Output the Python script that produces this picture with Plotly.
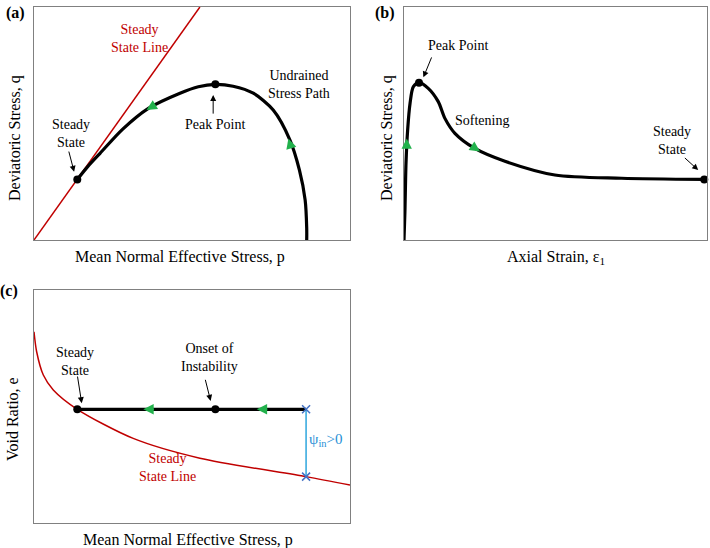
import plotly.graph_objects as go

# ---------------- data ----------------
# (a) stress path in p-q space
ssl_a_p = [0, 52.5]
ssl_a_q = [0, 100]
path_a_p = [13.7, 17, 20.9, 28, 36.2, 46.2, 52, 57.4, 63, 69.4, 75.7, 81, 84, 85.8, 86.3, 86.3]
path_a_q = [26, 31.5, 37.2, 47.5, 56.5, 63, 65.8, 66.8, 66, 63, 55.8, 42.9, 30, 17.2, 5, 0]
pts_a_p = [13.7, 57.4]
pts_a_q = [26, 66.8]

# (b) stress-strain curve
strain_b = [0, 0.3, 0.66, 1.2, 2.0, 3.1, 4.95, 8, 11.3, 13.5, 16.8, 23.4, 33.3, 49.8, 71.8, 99.1]
q_b = [0, 12, 32.9, 47.2, 58.7, 65.8, 67.5, 65.1, 59.4, 52.2, 45.8, 39.3, 33.8, 27.9, 26.5, 26.0]
pts_b_x = [4.95, 99.1]
pts_b_q = [67.5, 26.0]

# (c) void ratio vs p
ssl_c_p = [0, 0.84, 2.95, 6.1, 13.7, 31.4, 52.5, 86.1, 100]
ssl_c_e = [82.1, 73.5, 63.5, 57.1, 48.8, 36.3, 27.8, 19.9, 16.3]
path_c_p = [13.7, 57.4, 86.1]
path_c_e = [48.8, 48.8, 48.8]
pts_c_p = [13.7, 57.4]
pts_c_e = [48.8, 48.8]
psi_p = [86.1, 86.1]
psi_e = [48.8, 19.9]

RED = "#c00000"
BLACK = "#000000"
GREEN = "#22b14c"
BLUE_L = "#2ea6dd"
BLUE_M = "#4472c4"
FONT = "Liberation Serif"

W, H = 710, 548
def px(v):
    return v / W
def py(v):
    return 1 - v / H

fig = go.Figure()

# (a)
fig.add_trace(go.Scatter(x=ssl_a_p, y=ssl_a_q, mode="lines", line=dict(color=RED, width=1.5),
                         xaxis="x", yaxis="y", showlegend=False, hoverinfo="skip"))
fig.add_trace(go.Scatter(x=path_a_p, y=path_a_q, mode="lines", line=dict(color=BLACK, width=3.2, shape="spline", smoothing=0.8),
                         xaxis="x", yaxis="y", showlegend=False, hoverinfo="skip"))
fig.add_trace(go.Scatter(x=pts_a_p, y=pts_a_q, mode="markers", marker=dict(color=BLACK, size=8),
                         xaxis="x", yaxis="y", showlegend=False, hoverinfo="skip"))
# (b)
fig.add_trace(go.Scatter(x=strain_b, y=q_b, mode="lines", line=dict(color=BLACK, width=3.2, shape="spline", smoothing=0.8),
                         xaxis="x2", yaxis="y2", showlegend=False, hoverinfo="skip"))
fig.add_trace(go.Scatter(x=pts_b_x, y=pts_b_q, mode="markers", marker=dict(color=BLACK, size=8),
                         xaxis="x2", yaxis="y2", showlegend=False, hoverinfo="skip", cliponaxis=False))
# (c)
fig.add_trace(go.Scatter(x=ssl_c_p, y=ssl_c_e, mode="lines", line=dict(color=RED, width=1.5, shape="spline", smoothing=0.8),
                         xaxis="x3", yaxis="y3", showlegend=False, hoverinfo="skip"))
fig.add_trace(go.Scatter(x=path_c_p, y=path_c_e, mode="lines", line=dict(color=BLACK, width=3.2),
                         xaxis="x3", yaxis="y3", showlegend=False, hoverinfo="skip"))
fig.add_trace(go.Scatter(x=psi_p, y=psi_e, mode="lines+markers", line=dict(color=BLUE_L, width=1.5),
                         marker=dict(symbol="x-thin", size=8, line=dict(color=BLUE_M, width=1.5), color=BLUE_M),
                         xaxis="x3", yaxis="y3", showlegend=False, hoverinfo="skip"))
fig.add_trace(go.Scatter(x=pts_c_p, y=pts_c_e, mode="markers", marker=dict(color=BLACK, size=8),
                         xaxis="x3", yaxis="y3", showlegend=False, hoverinfo="skip"))

ax_common = dict(range=[0, 100], showgrid=False, zeroline=False, showticklabels=False, ticks="",
                 showline=True, mirror=True, linecolor="#808080", linewidth=1, fixedrange=True)

fig.update_layout(
    width=W, height=H,
    margin=dict(l=0, r=0, t=0, b=0),
    paper_bgcolor="white", plot_bgcolor="white",
    font=dict(family=FONT, size=14, color="black"),
    xaxis=dict(domain=[px(34), px(350)], anchor="y", **ax_common),
    yaxis=dict(domain=[py(240), py(7)], anchor="x", **ax_common),
    xaxis2=dict(domain=[px(404), px(707)], anchor="y2", **ax_common),
    yaxis2=dict(domain=[py(240), py(7)], anchor="x2", **ax_common),
    xaxis3=dict(domain=[px(34), px(350)], anchor="y3", **ax_common),
    yaxis3=dict(domain=[py(523), py(290)], anchor="x3", **ax_common),
)

ann = []
def text(x, y, s, xr, yr, color="black", size=14):
    ann.append(dict(x=x, y=y, xref=xr, yref=yr, text=s, showarrow=False,
                    font=dict(family=FONT, size=size, color=color), xanchor="center", yanchor="middle"))

def arrow(x, y, ax, ay, xr, yr, color="black", width=1, size=1.2):
    ann.append(dict(x=x, y=y, ax=ax, ay=ay, xref=xr, yref=yr, axref=xr, ayref=yr, text="",
                    showarrow=True, arrowhead=2, arrowsize=size, arrowwidth=width, arrowcolor=color, standoff=0))

def garrow(x, y, dx, dy, xr, yr):
    ann.append(dict(x=x, y=y, ax=dx, ay=dy, xref=xr, yref=yr, text="",
                    showarrow=True, arrowhead=2, arrowsize=1.15, arrowwidth=1.8, arrowcolor=GREEN, standoff=0))

# panel labels
for lab, x, y in [("(a)", 15, 13), ("(b)", 385, 13), ("(c)", 9, 291)]:
    ann.append(dict(x=px(x), y=py(y), xref="paper", yref="paper", text="<b>" + lab + "</b>", showarrow=False,
                    font=dict(family=FONT, size=16, color="black"), xanchor="center", yanchor="middle"))

# axis titles
def atitle(x, y, s, angle=0):
    ann.append(dict(x=px(x), y=py(y), xref="paper", yref="paper", text=s, showarrow=False, textangle=angle,
                    font=dict(family=FONT, size=16, color="black"), xanchor="center", yanchor="middle"))

atitle(180, 257, "Mean Normal Effective Stress, p")
atitle(15, 138, "Deviatoric Stress, q", -90)
atitle(556, 257, "Axial Strain, ε<sub>1</sub>")
atitle(387, 138, "Deviatoric Stress, q", -90)
atitle(188, 540, "Mean Normal Effective Stress, p")
atitle(12, 419, "Void Ratio, e", -90)

# (a) labels
text(33.5, 86.3, "Steady<br>State Line", "x", "y", color=RED)
text(83.9, 66.7, "Undrained<br>Stress Path", "x", "y")
text(11.6, 45.9, "Steady<br>State", "x", "y")
arrow(12.7, 29.3, 10.9, 38.6, "x", "y")
text(57.3, 49.4, "Peak Point", "x", "y")
arrow(56.7, 62.2, 56.7, 53.6, "x", "y")
garrow(35.6, 55.8, 10, -6, "x", "y")
garrow(80.5, 43.6, 3, 10, "x", "y")

# (b) labels
text(17.9, 83.3, "Peak Point", "x2", "y2")
arrow(6.4, 69.8, 9.3, 79, "x2", "y2")
text(25.6, 51.5, "Softening", "x2", "y2")
text(88.3, 42.9, "Steady<br>State", "x2", "y2")
arrow(97.1, 30, 92.2, 35.8, "x2", "y2")
garrow(0.9, 43.6, 0, 10, "x2", "y2")
garrow(25.1, 38.0, -9, -6, "x2", "y2")

# (c) labels
text(13, 69.5, "Steady<br>State", "x3", "y3")
arrow(15.1, 51.4, 13.7, 63.5, "x3", "y3")
text(55.5, 71, "Onset of<br>Instability", "x3", "y3")
arrow(55.9, 52.4, 54.1, 62.1, "x3", "y3")
text(42.3, 23.8, "Steady<br>State Line", "x3", "y3", color=RED)
text(92.3, 35.6, "ψ<sub>in</sub>>0", "x3", "y3", color="#1f8fd6", size=15)
garrow(34.6, 48.8, 12, 0, "x3", "y3")
garrow(70.5, 48.8, 12, 0, "x3", "y3")

fig.update_layout(annotations=ann)
fig.write_html("out.html", config={"displayModeBar": False},
               post_script="document.body.style.margin='0px';document.body.style.overflow='hidden';")
